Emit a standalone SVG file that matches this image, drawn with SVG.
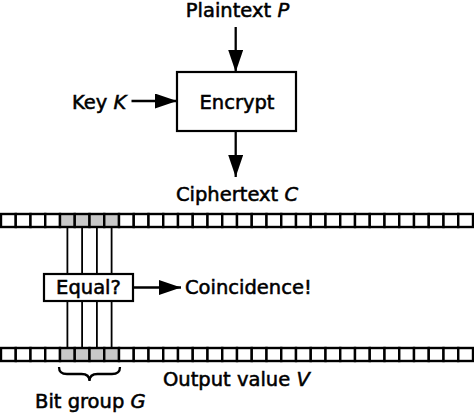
<svg xmlns="http://www.w3.org/2000/svg" width="474" height="413" viewBox="0 0 474 413">
<style>
text{font-family:"DejaVu Sans","Liberation Sans",sans-serif;font-size:19.5px;fill:#000;stroke:#000;stroke-width:0.55px}
.i{font-style:italic}
.box{fill:#fff;stroke:#000;stroke-width:2.2}
.cell{fill:#fff;stroke:#000;stroke-width:2.4}
.sh{fill:#c8c8c8}
.ln{fill:none;stroke:#000;stroke-width:2.3}
.thin{fill:none;stroke:#000;stroke-width:1.8}
</style>
<defs>
<marker id="ah" markerUnits="userSpaceOnUse" markerWidth="23" markerHeight="16" refX="22" refY="7.5" orient="auto">
<path d="M0,0 L22,7.5 L0,15 Z" fill="#000"/>
</marker>
<g id="row">
<rect class="cell" x="1" y="0" width="14.75" height="13"/><rect class="cell" x="15.75" y="0" width="14.75" height="13"/><rect class="cell" x="30.5" y="0" width="14.75" height="13"/><rect class="cell" x="45.25" y="0" width="14.75" height="13"/>
<rect class="cell sh" x="60" y="0" width="14.75" height="13"/><rect class="cell sh" x="74.75" y="0" width="14.75" height="13"/><rect class="cell sh" x="89.5" y="0" width="14.75" height="13"/><rect class="cell sh" x="104.25" y="0" width="14.75" height="13"/>
<rect class="cell" x="119" y="0" width="14.75" height="13"/><rect class="cell" x="133.75" y="0" width="14.75" height="13"/><rect class="cell" x="148.5" y="0" width="14.75" height="13"/><rect class="cell" x="163.25" y="0" width="14.75" height="13"/>
<rect class="cell" x="178" y="0" width="14.75" height="13"/><rect class="cell" x="192.75" y="0" width="14.75" height="13"/><rect class="cell" x="207.5" y="0" width="14.75" height="13"/><rect class="cell" x="222.25" y="0" width="14.75" height="13"/>
<rect class="cell" x="237" y="0" width="14.75" height="13"/><rect class="cell" x="251.75" y="0" width="14.75" height="13"/><rect class="cell" x="266.5" y="0" width="14.75" height="13"/><rect class="cell" x="281.25" y="0" width="14.75" height="13"/>
<rect class="cell" x="296" y="0" width="14.75" height="13"/><rect class="cell" x="310.75" y="0" width="14.75" height="13"/><rect class="cell" x="325.5" y="0" width="14.75" height="13"/><rect class="cell" x="340.25" y="0" width="14.75" height="13"/>
<rect class="cell" x="355" y="0" width="14.75" height="13"/><rect class="cell" x="369.75" y="0" width="14.75" height="13"/><rect class="cell" x="384.5" y="0" width="14.75" height="13"/><rect class="cell" x="399.25" y="0" width="14.75" height="13"/>
<rect class="cell" x="414" y="0" width="14.75" height="13"/><rect class="cell" x="428.75" y="0" width="14.75" height="13"/><rect class="cell" x="443.5" y="0" width="14.75" height="13"/><rect class="cell" x="458.25" y="0" width="14.75" height="13"/>
</g>
</defs>
<rect width="474" height="413" fill="#fff"/>

<g id="connectors">
<line class="ln" x1="235.7" y1="27" x2="235.7" y2="72" marker-end="url(#ah)"/>
<line class="ln" x1="131.5" y1="101" x2="177" y2="101" marker-end="url(#ah)"/>
<line class="ln" x1="235.7" y1="131" x2="235.7" y2="177" marker-end="url(#ah)"/>
<line class="ln" x1="133" y1="287.5" x2="181" y2="287.5" marker-end="url(#ah)"/>
<g class="thin">
<line x1="67.4" y1="228" x2="67.4" y2="273"/><line x1="82.1" y1="228" x2="82.1" y2="273"/><line x1="96.9" y1="228" x2="96.9" y2="273"/><line x1="111.6" y1="228" x2="111.6" y2="273"/>
<line x1="67.4" y1="301" x2="67.4" y2="347"/><line x1="82.1" y1="301" x2="82.1" y2="347"/><line x1="96.9" y1="301" x2="96.9" y2="347"/><line x1="111.6" y1="301" x2="111.6" y2="347"/>
</g>
</g>

<g id="plaintext"><text x="237.5" y="17" text-anchor="middle">Plaintext <tspan class="i">P</tspan></text></g>
<g id="key"><text x="72" y="109">Key <tspan class="i">K</tspan></text></g>
<g id="encrypt">
<rect class="box" x="177" y="72" width="119" height="59"/>
<text x="237" y="108.5" text-anchor="middle">Encrypt</text>
</g>
<g id="ciphertext">
<text x="237" y="201" text-anchor="middle">Ciphertext <tspan class="i">C</tspan></text>
<use href="#row" x="0" y="214"/>
</g>
<g id="equal">
<rect class="box" x="44" y="274" width="89" height="27"/>
<text x="88.5" y="294" text-anchor="middle">Equal?</text>
</g>
<g id="coincidence"><text x="185" y="294">Coincidence!</text></g>
<g id="output">
<use href="#row" x="0" y="348"/>
<text x="163" y="386">Output value <tspan class="i">V</tspan></text>
</g>
<g id="bitgroup">
<path class="ln" d="M59,367 q0,7 8,7 h14.5 q8,0 8,7 q0,-7 8,-7 h14.5 q8,0 8,-7" stroke-width="2"/>
<text x="35" y="408">Bit group <tspan class="i">G</tspan></text>
</g>
</svg>
